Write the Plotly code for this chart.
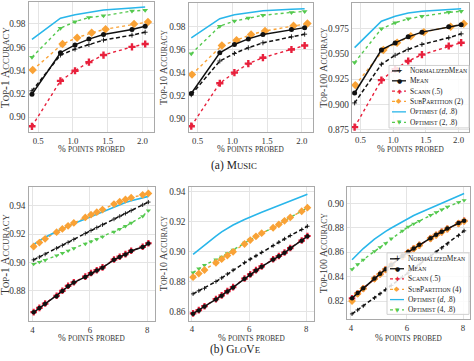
import plotly.graph_objects as go

W, H = 474, 361

# ---------------- DATA ----------------
music_x = [0.41, 0.82, 1.03, 1.23, 1.44, 1.85, 2.04]
music_x_sub = [0.42, 0.85, 1.06, 1.27, 1.47, 1.88, 2.08]

# Top-1 (Music)
m1_norm = [0.9225, 0.9533, 0.9584, 0.9623, 0.9662, 0.9704, 0.9729]
m1_mean = [0.9196, 0.9553, 0.9620, 0.9670, 0.9710, 0.9752, 0.9780]
m1_scann = [0.8920, 0.9311, 0.9398, 0.9472, 0.9533, 0.9603, 0.9628]
m1_sub = [0.9404, 0.9628, 0.9682, 0.9724, 0.9755, 0.9800, 0.9817]
m1_optd = [0.9668, 0.9850, 0.9880, 0.9900, 0.9920, 0.9937, 0.9946]
m1_opt2 = [0.9514, 0.9763, 0.9820, 0.9856, 0.9870, 0.9912, 0.9918]

# Top-10 (Music)
m10_norm = [0.9210, 0.9503, 0.9569, 0.9618, 0.9661, 0.9713, 0.9736]
m10_mean = [0.9221, 0.9575, 0.9647, 0.9695, 0.9733, 0.9776, 0.9793]
m10_scann = [0.8937, 0.9310, 0.9402, 0.9480, 0.9532, 0.9603, 0.9638]
m10_sub = [0.9385, 0.9638, 0.9684, 0.9733, 0.9764, 0.9810, 0.9828]
m10_optd = [0.9704, 0.9871, 0.9905, 0.9925, 0.9940, 0.9952, 0.9957]
m10_opt2 = [0.9566, 0.9805, 0.9850, 0.9876, 0.9900, 0.9925, 0.9934]

# Top-100 (Music)
m100_norm = [0.9013, 0.9398, 0.9487, 0.9546, 0.9595, 0.9661, 0.9700]
m100_mean = [0.9112, 0.9540, 0.9610, 0.9670, 0.9717, 0.9770, 0.9790]
m100_scann = [0.8773, 0.9240, 0.9349, 0.9430, 0.9493, 0.9579, 0.9612]
m100_sub = [0.9190, 0.9539, 0.9612, 0.9677, 0.9717, 0.9770, 0.9800]
m100_optd = [0.9563, 0.9826, 0.9875, 0.9908, 0.9924, 0.9937, 0.9950]
m100_opt2 = [0.9414, 0.9750, 0.9810, 0.9849, 0.9875, 0.9914, 0.9924]

glove_x = [4.04, 4.24, 4.44, 4.84, 5.04, 5.24, 5.44, 5.84, 6.04, 6.24, 6.44,
           6.84, 7.04, 7.24, 7.44, 7.84, 8.04]

# Top-1 (GloVe)
g1_norm = [0.9018, 0.9038, 0.9058, 0.9100, 0.9120, 0.9141, 0.9162, 0.9204, 0.9225,
           0.9245, 0.9265, 0.9305, 0.9325, 0.9345, 0.9365, 0.9405, 0.9425]
g1_mean = [0.8648, 0.8678, 0.8708, 0.8762, 0.8798, 0.8832, 0.8858, 0.8898, 0.8922,
           0.8943, 0.8963, 0.9018, 0.9038, 0.9056, 0.9080, 0.9108, 0.9133]
g1_scann = [0.8650, 0.8680, 0.8710, 0.8765, 0.8800, 0.8835, 0.8860, 0.8900, 0.8925,
            0.8945, 0.8965, 0.9020, 0.9040, 0.9058, 0.9082, 0.9110, 0.9135]
g1_sub = [0.9112, 0.9140, 0.9166, 0.9213, 0.9236, 0.9258, 0.9278, 0.9317, 0.9336,
          0.9354, 0.9372, 0.9411, 0.9428, 0.9443, 0.9456, 0.9476, 0.9486]
g1_optd = [0.9127, 0.9153, 0.9177, 0.9218, 0.9238, 0.9257, 0.9274, 0.9305, 0.9322,
           0.9340, 0.9358, 0.9393, 0.9408, 0.9422, 0.9434, 0.9455, 0.9465]
g1_opt2 = [0.8988, 0.9002, 0.9016, 0.9048, 0.9065, 0.9082, 0.9098, 0.9130, 0.9147,
           0.9163, 0.9180, 0.9215, 0.9235, 0.9255, 0.9278, 0.9325, 0.9365]

# Top-10 (GloVe)
g10_norm = [0.8720, 0.8740, 0.8757, 0.8802, 0.8826, 0.8852, 0.8878, 0.8928, 0.8951,
            0.8973, 0.8996, 0.9041, 0.9064, 0.9086, 0.9108, 0.9148, 0.9170]
g10_mean = [0.8588, 0.8610, 0.8636, 0.8683, 0.8708, 0.8736, 0.8763, 0.8820, 0.8848,
            0.8876, 0.8901, 0.8948, 0.8970, 0.8993, 0.9023, 0.9073, 0.9103]
g10_scann = [0.8590, 0.8612, 0.8638, 0.8685, 0.8710, 0.8738, 0.8765, 0.8822, 0.8850,
             0.8878, 0.8903, 0.8950, 0.8972, 0.8995, 0.9025, 0.9075, 0.9105]
g10_sub = [0.8831, 0.8855, 0.8879, 0.8927, 0.8951, 0.8975, 0.9000, 0.9052, 0.9078,
           0.9103, 0.9124, 0.9160, 0.9182, 0.9206, 0.9229, 0.9270, 0.9294]
g10_optd = [0.8983, 0.9015, 0.9045, 0.9105, 0.9133, 0.9158, 0.9178, 0.9215, 0.9232,
            0.9248, 0.9263, 0.9293, 0.9308, 0.9323, 0.9339, 0.9368, 0.9383]
g10_opt2 = [0.8862, 0.8888, 0.8912, 0.8948, 0.8967, 0.8990, 0.9013, 0.9060, 0.9082,
            0.9104, 0.9125, 0.9160, 0.9183, 0.9207, 0.9230, 0.9270, 0.9293]

# Top-100 (GloVe)
g100_norm = [0.8095, 0.8127, 0.8160, 0.8226, 0.8260, 0.8294, 0.8328, 0.8396, 0.8430,
             0.8464, 0.8498, 0.8566, 0.8600, 0.8634, 0.8668, 0.8736, 0.8775]
g100_mean = [0.8224, 0.8265, 0.8305, 0.8385, 0.8423, 0.8461, 0.8498, 0.8568, 0.8601,
             0.8631, 0.8660, 0.8715, 0.8743, 0.8768, 0.8793, 0.8838, 0.8858]
g100_scann = [0.8222, 0.8263, 0.8303, 0.8383, 0.8421, 0.8459, 0.8496, 0.8566, 0.8599,
              0.8629, 0.8658, 0.8713, 0.8741, 0.8766, 0.8791, 0.8836, 0.8856]
g100_sub = [0.8200, 0.8260, 0.8302, 0.8382, 0.8420, 0.8458, 0.8495, 0.8565, 0.8598,
            0.8628, 0.8657, 0.8712, 0.8740, 0.8765, 0.8790, 0.8835, 0.8855]
g100_optd = [0.8538, 0.8585, 0.8630, 0.8707, 0.8740, 0.8770, 0.8798, 0.8852, 0.8877,
             0.8900, 0.8921, 0.8962, 0.8982, 0.9002, 0.9022, 0.9060, 0.9080]
g100_opt2 = [0.8460, 0.8500, 0.8538, 0.8607, 0.8640, 0.8672, 0.8710, 0.8775, 0.8808,
             0.8832, 0.8855, 0.8903, 0.8925, 0.8948, 0.8970, 0.9008, 0.9025]

music_xticks = [0.5, 1.0, 1.5, 2.0]
glove_xticks = [4, 6, 8]
yticks_m1 = [0.90, 0.92, 0.94, 0.96, 0.98]
yticks_m10 = [0.90, 0.92, 0.94, 0.96, 0.98, 1.00]
yticks_m100 = [0.875, 0.900, 0.925, 0.950, 0.975, 1.000]
yticks_g1 = [0.88, 0.90, 0.92, 0.94]
yticks_g10 = [0.86, 0.88, 0.90, 0.92, 0.94]
yticks_g100 = [0.82, 0.84, 0.86, 0.88, 0.90]

ytitles = ["Top-1 Accuracy", "Top-10 Accuracy", "Top-100 Accuracy",
           "Top-1 Accuracy", "Top-10 Accuracy", "Top-100 Accuracy"]
xtitle = "% points probed"
caption_prefix = ["(a) ", "(b) "]
caption_names = ["Music", "GloVe"]
legend_labels_a = ["NormalizedMean", "Mean", "Scann", "SubPartition", "Optimist", "Optimist"]
legend_args_a = ["", "", " (.5)", " (2)", " (<i>d</i>, .8)", " (2, .8)"]
legend_args_b = ["", "", " (.5)", " (4)", " (<i>d</i>, .8)", " (4, .8)"]

# ---------------- STYLE ----------------
FONT = "Liberation Serif"
C_BLACK = "#111111"
C_RED = "#e8203c"
C_ORANGE = "#f9a236"
C_BLUE = "#29b6ea"
C_GREEN = "#55c94f"
GRID = "#e4e4e4"
FRAME = "#a9a9a9"

def sc(s, small):
    out, run, mode = [], "", None
    for ch in s:
        m = "s" if ch.islower() else "b"
        c = ch.upper() if ch.islower() else ch
        if m != mode and run:
            out.append((mode, run)); run = ""
        mode = m; run += c
    if run:
        out.append((mode, run))
    return "".join(f"<span style='font-size:{small}px'>{r}</span>" if m == "s" else r
                   for m, r in out)

# panel boxes in pixels: (x0, x1, y0_top, y1_bottom)
boxes = [(28.5, 153.5, 2.5, 133), (188.5, 313, 3, 133.3), (352, 469, 3, 132.7),
         (28.5, 155, 188.3, 324), (188.5, 314, 188.3, 323.3), (347, 470, 189, 321.7)]
yranges = [(0.8872, 0.9985), (0.8885, 1.0007), (0.8728, 1.0007),
           (0.8585, 0.9533), (0.8542, 0.9433), (0.8053, 0.9130)]
xranges = [(0.36, 2.16), (0.37, 2.16), (0.37, 2.16),
           (3.86, 8.27), (3.88, 8.27), (3.86, 8.25)]
ytickss = [yticks_m1, yticks_m10, yticks_m100, yticks_g1, yticks_g10, yticks_g100]
yfmts = [".2f", ".2f", ".3f", ".2f", ".2f", ".2f"]

panels = [
    (music_x, music_x_sub, m1_norm, m1_mean, m1_scann, m1_sub, m1_optd, m1_opt2),
    (music_x, music_x_sub, m10_norm, m10_mean, m10_scann, m10_sub, m10_optd, m10_opt2),
    (music_x, music_x_sub, m100_norm, m100_mean, m100_scann, m100_sub, m100_optd, m100_opt2),
    (glove_x, glove_x, g1_norm, g1_mean, g1_scann, g1_sub, g1_optd, g1_opt2),
    (glove_x, glove_x, g10_norm, g10_mean, g10_scann, g10_sub, g10_optd, g10_opt2),
    (glove_x, glove_x, g100_norm, g100_mean, g100_scann, g100_sub, g100_optd, g100_opt2),
]

fig = go.Figure()
layout = {}
for i, (px0, px1, py0, py1) in enumerate(boxes):
    k = "" if i == 0 else str(i + 1)
    xa, ya = "x" + k, "y" + k
    xv, xs, nm, mn, scn, sub, od, o2 = panels[i]
    ms = 5 if i < 3 else 4.5
    fig.add_trace(go.Scatter(x=xv, y=od, xaxis=xa, yaxis=ya, mode="lines",
                             line=dict(color=C_BLUE, width=1.6), showlegend=False))
    fig.add_trace(go.Scatter(x=xv, y=o2, xaxis=xa, yaxis=ya, mode="lines+markers",
                             line=dict(color=C_GREEN, width=1.4, dash="dot"),
                             marker=dict(symbol="triangle-down", size=ms, color=C_GREEN),
                             showlegend=False))
    fig.add_trace(go.Scatter(x=xv, y=scn, xaxis=xa, yaxis=ya, mode="lines+markers",
                             line=dict(color=C_RED, width=1.4, dash="dot"),
                             marker=dict(symbol="cross", size=ms + 1, color=C_RED),
                             showlegend=False))
    fig.add_trace(go.Scatter(x=xs, y=sub, xaxis=xa, yaxis=ya, mode="lines+markers",
                             line=dict(color=C_ORANGE, width=1.4, dash="dot"),
                             marker=dict(symbol="diamond", size=ms + 1.5, color=C_ORANGE),
                             showlegend=False))
    fig.add_trace(go.Scatter(x=xv, y=nm, xaxis=xa, yaxis=ya, mode="lines+markers",
                             line=dict(color=C_BLACK, width=1.5, dash="4px,2.5px"),
                             marker=dict(symbol="cross-thin-open", size=3.5 if i < 3 else 3,
                                         line=dict(color=C_BLACK, width=0.9)),
                             showlegend=False))
    fig.add_trace(go.Scatter(x=xv, y=mn, xaxis=xa, yaxis=ya, mode="lines+markers",
                             line=dict(color=C_BLACK, width=1.5),
                             marker=dict(symbol="circle", size=ms, color=C_BLACK),
                             showlegend=False))

    xticks = music_xticks if i < 3 else glove_xticks
    layout["xaxis" + k] = dict(
        domain=[px0 / W, px1 / W], anchor=ya, range=list(xranges[i]),
        tickvals=xticks, tickformat=".1f" if i < 3 else "d",
        showgrid=True, gridcolor=GRID, gridwidth=1, zeroline=False,
        showline=True, mirror=True, linecolor=FRAME, linewidth=1.3,
        ticks="", ticklen=0, tickfont=dict(family=FONT, size=8.8, color="#333333"))
    layout["yaxis" + k] = dict(
        domain=[1 - py1 / H, 1 - py0 / H], anchor=xa, range=list(yranges[i]),
        tickvals=ytickss[i], tickformat=yfmts[i],
        showgrid=True, gridcolor=GRID, gridwidth=1, zeroline=False,
        showline=True, mirror=True, linecolor=FRAME, linewidth=1.3,
        ticks="", ticklen=0, tickfont=dict(family=FONT, size=9.3, color="#333333"))

annotations = []
shapes = []
# y titles
ytitle_x = [5, 163.5, 323.5, 5, 163.5, 323]
for i, (px0, px1, py0, py1) in enumerate(boxes):
    big, small = (11.5, 8.8) if i in (0, 3) else (10, 7.6)
    annotations.append(dict(text=sc(ytitles[i], small), x=ytitle_x[i] / W,
                            y=1 - (py0 + py1) / 2 / H, xref="paper", yref="paper",
                            textangle=-90, showarrow=False, xanchor="center", yanchor="middle",
                            font=dict(family=FONT, size=big, color="#333333")))
    ty = 150.5 if i < 3 else 341
    annotations.append(dict(text=sc(xtitle, 7.3), x=(px0 + px1) / 2 / W, y=1 - ty / H,
                            xref="paper", yref="paper", showarrow=False,
                            xanchor="center", yanchor="middle",
                            font=dict(family=FONT, size=9.3, color="#333333")))
for pre, name, cx, cy in zip(caption_prefix, caption_names, [234, 235], [167, 352]):
    annotations.append(dict(text=pre + sc(name, 8.8), x=cx / W, y=1 - cy / H, xref="paper",
                            yref="paper", showarrow=False, xanchor="center", yanchor="middle",
                            font=dict(family=FONT, size=11.5, color="#222222")))

# legends (drawn as layout decoration)
key_styles = [
    (C_BLACK, "dash", "+", 8),
    (C_BLACK, "solid", "●", 6),
    (C_RED, "dot", "✚", 6),
    (C_ORANGE, "dot", "◆", 7),
    (C_BLUE, "solid", "", 6),
    (C_GREEN, "dot", "▼", 5.5),
]
def add_legend(bx0, bx1, by0, by1, ys, args):
    shapes.append(dict(type="rect", xref="paper", yref="paper", layer="above",
                       x0=bx0 / W, x1=bx1 / W, y0=1 - by1 / H, y1=1 - by0 / H,
                       fillcolor="rgba(255,255,255,0.85)",
                       line=dict(color="#d0d0d0", width=1)))
    for (col, dash, glyph, gs), lab, arg, yy in zip(key_styles, legend_labels_a, args, ys):
        shapes.append(dict(type="line", xref="paper", yref="paper", layer="above",
                           x0=(bx0 + 3) / W, x1=(bx0 + 17) / W, y0=1 - yy / H, y1=1 - yy / H,
                           line=dict(color=col, width=1.3, dash=dash)))
        if glyph:
            annotations.append(dict(text=glyph, x=(bx0 + 10) / W, y=1 - yy / H,
                                    xref="paper", yref="paper", showarrow=False,
                                    xanchor="center", yanchor="middle",
                                    font=dict(family="DejaVu Sans", size=gs, color=col)))
        annotations.append(dict(text=sc(lab, 5.7) + arg, x=(bx0 + 18.5) / W, y=1 - yy / H,
                                xref="paper", yref="paper", showarrow=False,
                                xanchor="left", yanchor="middle",
                                font=dict(family=FONT, size=7.4, color="#222222")))

add_legend(389, 469, 66, 129, [71.5, 81.5, 91.8, 102.3, 112.8, 123.3], legend_args_a)
add_legend(387, 469, 255, 317, [261, 271, 281.3, 291.7, 302.1, 312.4], legend_args_b)

fig.update_layout(width=W, height=H, margin=dict(l=0, r=0, t=0, b=0),
                  paper_bgcolor="white", plot_bgcolor="white",
                  annotations=annotations, shapes=shapes, showlegend=False, **layout)
fig.write_html("out.html", config={"displayModeBar": False},
               post_script="document.body.style.margin='0px';document.body.style.padding='0px';")
